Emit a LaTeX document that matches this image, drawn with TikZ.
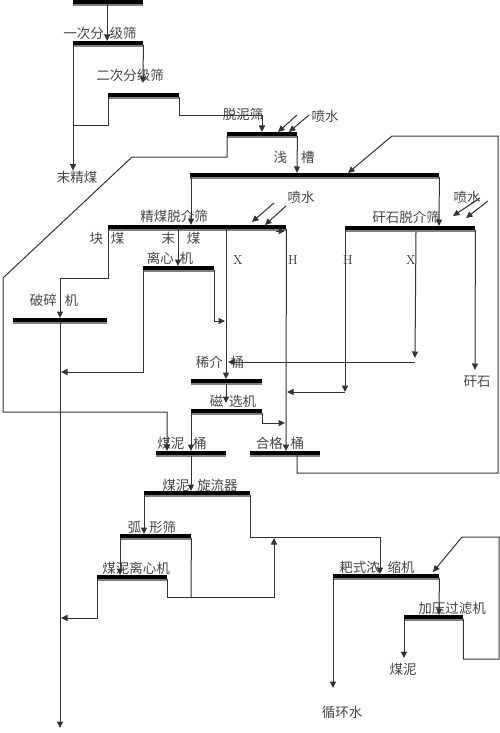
\documentclass[tikz,border=0pt]{standalone}
\usepackage{fontspec}
\newfontfamily\cjk{Noto Sans CJK SC}
\usetikzlibrary{arrows.meta,calc}
\newcommand\scr[4]{%
  \node[screen, minimum width={#3-#2}, anchor=north west] (#1) at (#2,#4) {};
  \draw[screenlow] ($(#1.south west)+(0,-1.2pt)$) -- ($(#1.south east)+(0,-1.2pt)$);
}
\begin{document}
\begin{tikzpicture}[x=1pt,y=-1pt,
  conn/.style={draw=black!80, line width=1pt},
  arr/.style={conn, -{Triangle[length=6.5pt,width=6pt]}},
  lbl/.style={font=\cjk\fontsize{13.5}{14}\selectfont, text=black!72, inner sep=0pt},
  ltr/.style={font=\fontsize{13}{14}\selectfont, text=black!80, inner sep=0pt},
  screen/.style={rectangle, fill=black, draw=none, minimum height=3.5pt, inner sep=0pt},
  screenlow/.style={draw=black!50, line width=1.4pt}
]
\useasboundingbox (0,0) rectangle (500,733);
\fill[white] (0,0) rectangle (500,733);

% screens / equipment bars
\scr{top}{73}{143}{0}
\scr{yc}{73}{143}{41}
\scr{ec}{108}{179}{93}
\scr{tn}{227}{297}{132}
\scr{qc}{190}{439}{173}
\scr{jm}{108}{286}{225}
\scr{gs}{345}{475}{226}
\scr{lx}{143}{214}{266}
\scr{ps}{13}{107}{318}
\scr{xj}{191}{262}{379}
\scr{cx}{191}{262}{409}
\scr{mn}{156}{226}{451}
\scr{hg}{250}{320}{451}
\scr{xl}{144}{250}{491}
\scr{hx}{120}{191}{534}
\scr{mlx}{97}{167}{575}
\scr{ns}{333}{439}{574}
\scr{yl}{404}{463}{615}

% labels
\node[lbl] (t1) at (100,33) {一次分\hspace{6pt}级筛};
\node[lbl] (t2) at (130,75) {二次分级筛};
\node[lbl] (t3) at (77,177) {末精煤};
\node[lbl] (t4) at (243,114) {脱泥筛};
\node[lbl] (t5) at (325,116) {喷水};
\node[lbl] (t6) at (294,157) {浅\hspace{14pt}槽};
\node[lbl] (t7) at (174,216) {精煤脱介筛};
\node[lbl] (t8) at (301,197) {喷水};
\node[lbl] (t9) at (406,217) {矸石脱介筛};
\node[lbl] (t10) at (467,197) {喷水};
\node[lbl] (t11) at (107,238) {块\hspace{8pt}煤};
\node[lbl] (t12) at (181,238) {末\hspace{12pt}煤};
\node[ltr] (t13) at (238,260) {X};
\node[ltr] (t14) at (293,260) {H};
\node[ltr] (t15) at (348,260) {H};
\node[ltr] (t16) at (411,260) {X};
\node[lbl] (t17) at (170,258) {离心\hspace{6pt}机};
\node[lbl] (t18) at (54,300) {破碎\hspace{8pt}机};
\node[lbl] (t19) at (220,362) {稀介\hspace{8pt}桶};
\node[lbl] (t20) at (233,401) {磁\hspace{6pt}选机};
\node[lbl] (t21) at (182,443) {煤泥\hspace{9pt}桶};
\node[lbl] (t22) at (280,443) {合格\hspace{8pt}桶};
\node[lbl] (t23) at (477,382) {矸石};
\node[lbl] (t24) at (200,485) {煤泥\hspace{8pt}旋流器};
\node[lbl] (t25) at (152,527) {弧\hspace{8pt}形筛};
\node[lbl] (t26) at (136,568) {煤泥离心机};
\node[lbl] (t27) at (377,567) {耙式浓\hspace{8pt}缩机};
\node[lbl] (t28) at (452,608) {加压过滤机};
\node[lbl] (t29) at (403,669) {煤泥};
\node[lbl] (t30) at (342,712) {循环水};

% connectors
\draw[arr] (top.south) ++(-1,0) coordinate (c0) -- (c0 |- yc.north);
\draw[arr] (yc.south west) -- (t3.north -| yc.south west);
\draw[arr] (yc.south east) -- (143,83);
\draw[conn] (ec.south west) |- (73,126);
\draw[arr] (ec.south east) |- (262,116) -- (262,132);
\draw[arr] (297,115) -- (278,132);
\draw[arr] (309,115) -- (289,132);
\draw[arr] (tn.south west) |- (132,157) -- (3,278) |- (167,412) -- (167,451);
\draw[arr] (tn.south east) -- (297,173);
\draw[arr] (191,176) -- (191,225);
\draw[arr] (qc.south east) -- (439,226);
\draw[arr] (297,454) |- (498,473) |- (392,136) -- (348,173);
\draw[arr] (jm.south west) |- (60,278) -- (60,318);
\draw[arr] (60,321) -- (60,728);
\draw[arr] (178,228) -- (178,266);
\draw[arr] (226,228) -- (226,379);
\draw[arr] (jm.south east) -- (286,451);
\draw[arr] (276,231) -- (285,231);
\draw[arr] (274,203) -- (252,222);
\draw[arr] (286,206) -- (265,225);
\draw[arr] (gs.south west) -- (345,392);
\draw[arr] (345,392) -- (287,392);
\draw[arr] (416,232) -- (415,358);
\draw[arr] (415,362) -- (228,362);
\draw[arr] (gs.south east) -- (475,370);
\draw[arr] (480,198) -- (453,216);
\draw[arr] (488,201) -- (466,218);
\draw[arr] (lx.south east) |- (225,321);
\draw[arr] (lx.south west) |- (61,372);
\draw[arr] (226,384) -- (226,403);
\draw[arr] (cx.south west) -- (191,451);
\draw[arr] (cx.south east) |- (285,423);
\draw[arr] (191,456) -- (191,491);
\draw[arr] (xl.south west) -- (144,534);
\draw[arr] (xl.south east) |- (380,537) -- (380,574);
\draw[arr] (hx.south west) -- (120,575);
\draw[conn] (hx.south east) -- (191,597);
\draw[arr] (mlx.south east) |- (274,597) -- (274,538);
\draw[arr] (mlx.south west) |- (61,618);
\draw[arr] (ns.south west) -- (333,688);
\draw[arr] (ns.south east) -- (439,615);
\draw[arr] (yl.south west) -- (404,658);
\draw[arr] (yl.south east) |- (499,659) |- (462,537) -- (433,572);
\end{tikzpicture}
\end{document}
